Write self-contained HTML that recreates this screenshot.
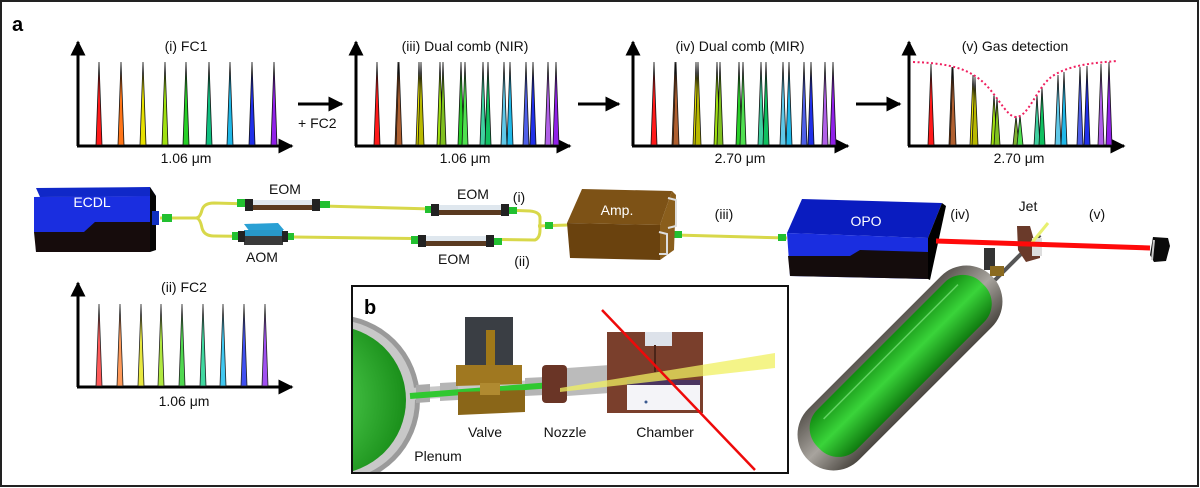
<!DOCTYPE html>
<html><head><meta charset="utf-8"><style>
html,body{margin:0;padding:0;background:#fff}
svg{display:block}
text{font-family:"Liberation Sans",sans-serif;fill:#111}
</style></head><body>
<svg width="1200" height="488" viewBox="0 0 1200 488" xmlns="http://www.w3.org/2000/svg">
<defs>
<marker id="ah" viewBox="0 0 10 10" refX="9" refY="5" markerWidth="5" markerHeight="5" orient="auto"><path d="M0,0 L10,5 L0,10 z" fill="#000"/></marker>
<linearGradient id="tank" x1="0" y1="0" x2="0" y2="1"><stop offset="0" stop-color="#5a5650"/><stop offset="0.5" stop-color="#a8a49e"/><stop offset="1" stop-color="#4a4640"/></linearGradient>
<linearGradient id="gr" x1="0" y1="0" x2="0" y2="1"><stop offset="0" stop-color="#118a11"/><stop offset="0.5" stop-color="#3ad43a"/><stop offset="1" stop-color="#0f7a0f"/></linearGradient>
<radialGradient id="plen" cx="0.3" cy="0.5" r="0.7"><stop offset="0" stop-color="#5fe05f"/><stop offset="1" stop-color="#1a8f1a"/></radialGradient>
<clipPath id="bclip"><rect x="353" y="287" width="434" height="185"/></clipPath>
</defs>
<rect x="1" y="1" width="1197" height="485" fill="none" stroke="#222" stroke-width="2"/>
<text x="12" y="31" font-size="20" font-weight="bold" style="fill:#000">a</text>

<g stroke="#000" stroke-width="3" fill="none"><line x1="78" y1="146" x2="78" y2="42" marker-end="url(#ah)"/><line x1="77" y1="146" x2="292" y2="146" marker-end="url(#ah)"/></g>
<text x="186" y="51" font-size="14" text-anchor="middle">(i) FC1</text>
<text x="186" y="163" font-size="14" text-anchor="middle">1.06 μm</text>
<g stroke="#111" stroke-width="0.8">
<polygon points="96,145 99,62 102,145" fill="#ff1a1a"/><polygon points="118,145 121,62 124,145" fill="#ff7518"/><polygon points="140,145 143,62 146,145" fill="#e6e000"/><polygon points="162,145 165,62 168,145" fill="#a0e010"/><polygon points="183,145 186,62 189,145" fill="#28d028"/><polygon points="206,145 209,62 212,145" fill="#10c080"/><polygon points="227,145 230,62 233,145" fill="#20b8e8"/><polygon points="249,145 252,62 255,145" fill="#2030e8"/><polygon points="271,145 274,62 277,145" fill="#9020e8"/>
</g>

<line x1="298" y1="104" x2="342" y2="104" stroke="#000" stroke-width="3" marker-end="url(#ah)"/>
<text x="298" y="128" font-size="14">+ FC2</text>

<g stroke="#000" stroke-width="3" fill="none"><line x1="356" y1="146" x2="356" y2="42" marker-end="url(#ah)"/><line x1="355" y1="146" x2="570" y2="146" marker-end="url(#ah)"/></g>
<text x="465" y="51" font-size="14" text-anchor="middle">(iii) Dual comb (NIR)</text>
<text x="465" y="163" font-size="14" text-anchor="middle">1.06 μm</text>
<g stroke="#111" stroke-width="0.8">
<polygon points="374,145 377,62 380,145" fill="#ff1a1a"/>
<polygon points="395,145 398,62 401,145" fill="#ff7518"/><polygon points="396,145 399,62 402,145" fill="#b06030"/>
<polygon points="416,145 419,62 422,145" fill="#e6e000"/><polygon points="418,145 421,62 424,145" fill="#b8b800"/>
<polygon points="437,145 440,62 443,145" fill="#a0e010"/><polygon points="440,145 443,62 446,145" fill="#80c020"/>
<polygon points="458,145 461,62 464,145" fill="#28d028"/><polygon points="462,145 465,62 468,145" fill="#50e050"/>
<polygon points="480,145 483,62 486,145" fill="#40d0a0"/><polygon points="485,145 488,62 491,145" fill="#10c060"/>
<polygon points="501,145 504,62 507,145" fill="#60c8e8"/><polygon points="507,145 510,62 513,145" fill="#20b8e8"/>
<polygon points="523,145 526,62 529,145" fill="#5060e8"/><polygon points="530,145 533,62 536,145" fill="#2030e8"/>
<polygon points="545,145 548,62 551,145" fill="#b060e8"/><polygon points="553,145 556,62 559,145" fill="#9020e8"/>
</g>

<line x1="578" y1="104" x2="619" y2="104" stroke="#000" stroke-width="3" marker-end="url(#ah)"/>

<g stroke="#000" stroke-width="3" fill="none"><line x1="633" y1="146" x2="633" y2="42" marker-end="url(#ah)"/><line x1="632" y1="146" x2="848" y2="146" marker-end="url(#ah)"/></g>
<text x="740" y="51" font-size="14" text-anchor="middle">(iv) Dual comb (MIR)</text>
<text x="740" y="163" font-size="14" text-anchor="middle">2.70 μm</text>
<g stroke="#111" stroke-width="0.8">
<polygon points="651,145 654,62 657,145" fill="#ff1a1a"/>
<polygon points="672,145 675,62 678,145" fill="#ff7518"/><polygon points="673,145 676,62 679,145" fill="#b06030"/>
<polygon points="693,145 696,62 699,145" fill="#e6e000"/><polygon points="695,145 698,62 701,145" fill="#b8b800"/>
<polygon points="714,145 717,62 720,145" fill="#a0e010"/><polygon points="717,145 720,62 723,145" fill="#80c020"/>
<polygon points="736,145 739,62 742,145" fill="#28d028"/><polygon points="740,145 743,62 746,145" fill="#50e050"/>
<polygon points="758,145 761,62 764,145" fill="#40d0a0"/><polygon points="763,145 766,62 769,145" fill="#10c060"/>
<polygon points="780,145 783,62 786,145" fill="#60c8e8"/><polygon points="786,145 789,62 792,145" fill="#20b8e8"/>
<polygon points="801,145 804,62 807,145" fill="#5060e8"/><polygon points="808,145 811,62 814,145" fill="#2030e8"/>
<polygon points="822,145 825,62 828,145" fill="#b060e8"/><polygon points="830,145 833,62 836,145" fill="#9020e8"/>
</g>

<line x1="856" y1="104" x2="900" y2="104" stroke="#000" stroke-width="3" marker-end="url(#ah)"/>

<g stroke="#000" stroke-width="3" fill="none"><line x1="909" y1="146" x2="909" y2="42" marker-end="url(#ah)"/><line x1="908" y1="146" x2="1124" y2="146" marker-end="url(#ah)"/></g>
<text x="1015" y="51" font-size="14" text-anchor="middle">(v) Gas detection</text>
<text x="1019" y="163" font-size="14" text-anchor="middle">2.70 μm</text>
<g stroke="#111" stroke-width="0.8">
<polygon points="928,145 931,64 934,145" fill="#ff1a1a"/>
<polygon points="949,145 952,67 955,145" fill="#ff7518"/><polygon points="950,145 953,67 956,145" fill="#b06030"/>
<polygon points="970,145 973,75 976,145" fill="#e6e000"/><polygon points="972,145 975,77 978,145" fill="#b8b800"/>
<polygon points="991,145 994,94 997,145" fill="#a0e010"/><polygon points="994,145 997,98 1000,145" fill="#80c020"/>
<polygon points="1013,145 1016,116 1019,145" fill="#80b030"/><polygon points="1017,145 1020,115 1023,145" fill="#50e050"/>
<polygon points="1034,145 1037,95 1040,145" fill="#40d0a0"/><polygon points="1039,145 1042,87 1045,145" fill="#10c060"/>
<polygon points="1055,145 1058,75 1061,145" fill="#60c8e8"/><polygon points="1061,145 1064,72 1067,145" fill="#20b8e8"/>
<polygon points="1077,145 1080,67 1083,145" fill="#5060e8"/><polygon points="1084,145 1087,66 1090,145" fill="#2030e8"/>
<polygon points="1098,145 1101,64 1104,145" fill="#b060e8"/><polygon points="1106,145 1109,62 1112,145" fill="#9020e8"/>
</g>
<path d="M913,62 C940,63 960,66 975,76 C995,88 1005,117 1016,117 C1028,117 1036,90 1050,78 C1065,66 1090,63 1117,61" fill="none" stroke="#f02060" stroke-width="2" stroke-dasharray="2,2.5"/>

<g stroke="#000" stroke-width="3" fill="none"><line x1="78" y1="387" x2="78" y2="283" marker-end="url(#ah)"/><line x1="77" y1="387" x2="292" y2="387" marker-end="url(#ah)"/></g>
<text x="184" y="292" font-size="14" text-anchor="middle">(ii) FC2</text>
<text x="184" y="406" font-size="14" text-anchor="middle">1.06 μm</text>
<g stroke="#222" stroke-width="0.8">
<polygon points="96,386 99,304 102,386" fill="#ff5a5a"/><polygon points="117,386 120,304 123,386" fill="#ff9a5a"/><polygon points="138,386 141,304 144,386" fill="#e8e840"/><polygon points="158,386 161,304 164,386" fill="#b0e840"/><polygon points="179,386 182,304 185,386" fill="#50d850"/><polygon points="200,386 203,304 206,386" fill="#40d8a0"/><polygon points="220,386 223,304 226,386" fill="#40c8f0"/><polygon points="241,386 244,304 247,386" fill="#4050f0"/><polygon points="262,386 265,304 268,386" fill="#a050f0"/>
</g>

<polygon points="36,188 150,187 156,196 40,197" fill="#1028c8"/>
<polygon points="34,197 150,196 150,252 36,252" fill="#0d1aa0"/>
<polygon points="34,197 150,196 150,222 95,222 84,232 34,232" fill="#1a2ee0"/>
<polygon points="34,232 84,232 95,222 150,222 150,252 36,252" fill="#160c0c"/>
<polygon points="150,187 156,196 156,250 150,252" fill="#050505"/>
<rect x="152" y="211" width="7" height="14" fill="#1030c0"/>
<text x="92" y="207" font-size="14" text-anchor="middle" style="fill:#fff">ECDL</text>

<g fill="none" stroke="#d8d84a" stroke-width="3">
<path d="M160,218 L196,218 Q200,218 202,210 Q204,203 214,203 L433,209"/>
<path d="M196,218 Q200,218 202,228 Q204,236 214,236 L535,240 Q540,238 540,230 L540,218 Q540,212 530,211 L505,210"/>
<path d="M538,226 L568,225"/>
<path d="M675,235 L787,238"/>
</g>
<g fill="#22c030"><rect x="162" y="214" width="10" height="8"/><rect x="237" y="199" width="8" height="8"/><rect x="320" y="201" width="10" height="7"/><rect x="425" y="206" width="8" height="7"/><rect x="509" y="207" width="8" height="7"/><rect x="232" y="232" width="8" height="8"/><rect x="285" y="233" width="9" height="7"/><rect x="411" y="236" width="8" height="8"/><rect x="494" y="238" width="8" height="7"/><rect x="545" y="222" width="8" height="7"/><rect x="672" y="231" width="10" height="7"/><rect x="778" y="234" width="8" height="7"/></g>
<g>
<rect x="247" y="200" width="71" height="5" fill="#dfe7ee"/><rect x="247" y="205" width="71" height="5" fill="#5a3a20"/><rect x="245" y="199" width="8" height="12" fill="#222"/><rect x="312" y="199" width="8" height="12" fill="#222"/>
<rect x="433" y="205" width="74" height="5" fill="#dfe7ee"/><rect x="433" y="210" width="74" height="5" fill="#5a3a20"/><rect x="431" y="204" width="8" height="12" fill="#222"/><rect x="501" y="204" width="8" height="12" fill="#222"/>
<rect x="420" y="236" width="72" height="5" fill="#dfe7ee"/><rect x="420" y="241" width="72" height="5" fill="#5a3a20"/><rect x="418" y="235" width="8" height="12" fill="#222"/><rect x="486" y="235" width="8" height="12" fill="#222"/>
</g>
<polygon points="244,224 278,223 284,230 250,232" fill="#2aa0d4"/>
<rect x="244" y="230" width="39" height="14" fill="#2898c8"/>
<rect x="244" y="236" width="39" height="9" fill="#3a3a3a"/>
<rect x="238" y="231" width="7" height="11" fill="#222"/><rect x="282" y="231" width="6" height="11" fill="#222"/>
<text x="285" y="194" font-size="14" text-anchor="middle">EOM</text>
<text x="473" y="199" font-size="14" text-anchor="middle">EOM</text>
<text x="519" y="202" font-size="14" text-anchor="middle">(i)</text>
<text x="262" y="262" font-size="14" text-anchor="middle">AOM</text>
<text x="454" y="264" font-size="14" text-anchor="middle">EOM</text>
<text x="522" y="266" font-size="14" text-anchor="middle">(ii)</text>

<polygon points="582,189 672,191 660,225 567,223" fill="#7d5216"/>
<polygon points="567,223 660,225 660,260 570,258" fill="#6a420e"/>
<polygon points="672,191 676,195 674,250 660,260 660,225" fill="#8a5e1c"/>
<path d="M668,198 L676,200 L676,226 L668,228" fill="none" stroke="#ddd" stroke-width="2"/>
<path d="M659,232 L667,234 L667,254 L659,254" fill="none" stroke="#ddd" stroke-width="2"/>
<text x="617" y="215" font-size="14" text-anchor="middle" style="fill:#fff">Amp.</text>
<text x="724" y="219" font-size="14" text-anchor="middle">(iii)</text>

<polygon points="802,199 942,203 928,238 787,233" fill="#0a1cc0"/>
<polygon points="787,233 928,238 928,279 790,276" fill="#1a2ee0"/>
<polygon points="788,256 850,256 860,250 928,252 928,279 790,276" fill="#140c0c"/>
<polygon points="942,203 946,206 930,280 928,279 928,238" fill="#000"/>
<text x="866" y="226" font-size="14" text-anchor="middle" style="fill:#fff">OPO</text>
<text x="960" y="219" font-size="14" text-anchor="middle">(iv)</text>
<text x="1028" y="211" font-size="14" text-anchor="middle">Jet</text>
<text x="1097" y="219" font-size="14" text-anchor="middle">(v)</text>

<g transform="translate(900,368) rotate(-45)">
<rect x="-130" y="-36" width="260" height="72" rx="36" fill="url(#tank)"/>
<rect x="-114" y="-29" width="232" height="56" rx="26" fill="url(#gr)"/>
<line x1="-90" y1="-18" x2="100" y2="-18" stroke="#8ef08e" stroke-width="1.5" opacity="0.6"/>
</g>
<line x1="995" y1="280" x2="1040" y2="235" stroke="#555" stroke-width="4"/>
<rect x="984" y="248" width="11" height="22" fill="#333"/>
<rect x="990" y="266" width="14" height="10" fill="#8a6a20"/>
<polygon points="1017,226 1030,226 1034,240 1040,244 1040,258 1026,262 1018,250" fill="#6a3a2a"/>
<rect x="1032" y="238" width="10" height="18" fill="#ddd"/>
<line x1="1030" y1="245" x2="1048" y2="223" stroke="#e8f070" stroke-width="3"/>
<line x1="936" y1="241" x2="1150" y2="248" stroke="#ff0a0a" stroke-width="5"/>
<polygon points="1153,237 1168,238 1170,246 1166,261 1154,262 1150,255" fill="#0a0a0a"/>
<line x1="1154" y1="240" x2="1152" y2="260" stroke="#ccc" stroke-width="2"/>

<rect x="352" y="286" width="436" height="187" fill="#fff" stroke="#111" stroke-width="2"/>
<g clip-path="url(#bclip)">
<circle cx="335" cy="400" r="85" fill="#9a9a9a"/>
<circle cx="335" cy="400" r="80" fill="#c8c8c8"/>
<circle cx="332" cy="400" r="74" fill="url(#plen)"/>
<polygon points="410,388 565,378 565,390 410,400" fill="#c8c8c8"/>
<polygon points="416,385 430,384 430,402 416,403" fill="#aaa"/>
<polygon points="440,383 458,382 458,400 440,401" fill="#b5b5b5"/>
<polygon points="525,378 545,377 545,395 525,396" fill="#b5b5b5"/>
<line x1="410" y1="396" x2="565" y2="384" stroke="#30c830" stroke-width="6"/>
<rect x="465" y="317" width="48" height="51" fill="#3a3e44"/>
<rect x="486" y="330" width="9" height="55" fill="#a07818"/>
<polygon points="456,365 522,365 522,384 456,386" fill="#a07820"/>
<polygon points="458,392 525,390 525,412 458,415" fill="#8a6618"/>
<rect x="480" y="383" width="20" height="12" fill="#b08a30"/>
<rect x="542" y="365" width="25" height="38" rx="4" fill="#6a3526"/>
<polygon points="567,368 610,365 610,393 567,396" fill="#bbb"/>
<rect x="607" y="332" width="96" height="81" fill="#7a3f2c"/>
<rect x="645" y="332" width="27" height="14" fill="#dde2ea"/>
<rect x="627" y="383" width="73" height="27" fill="#f4f4f8"/>
<rect x="627" y="380" width="73" height="5" fill="#4a3560"/>
<circle cx="646" cy="402" r="1.5" fill="#3a5a90"/>
<line x1="655" y1="345" x2="655" y2="372" stroke="#4a2418" stroke-width="2"/>
<polygon points="560,388 775,353 775,368 560,392" fill="#f0f060" opacity="0.75"/>
<line x1="602" y1="310" x2="755" y2="470" stroke="#ee0a0a" stroke-width="2.5"/>
</g>
<text x="364" y="314" font-size="20" font-weight="bold" style="fill:#000">b</text>
<text x="485" y="437" font-size="14" text-anchor="middle">Valve</text>
<text x="565" y="437" font-size="14" text-anchor="middle">Nozzle</text>
<text x="665" y="437" font-size="14" text-anchor="middle">Chamber</text>
<text x="438" y="461" font-size="14" text-anchor="middle">Plenum</text>
</svg>
</body></html>
